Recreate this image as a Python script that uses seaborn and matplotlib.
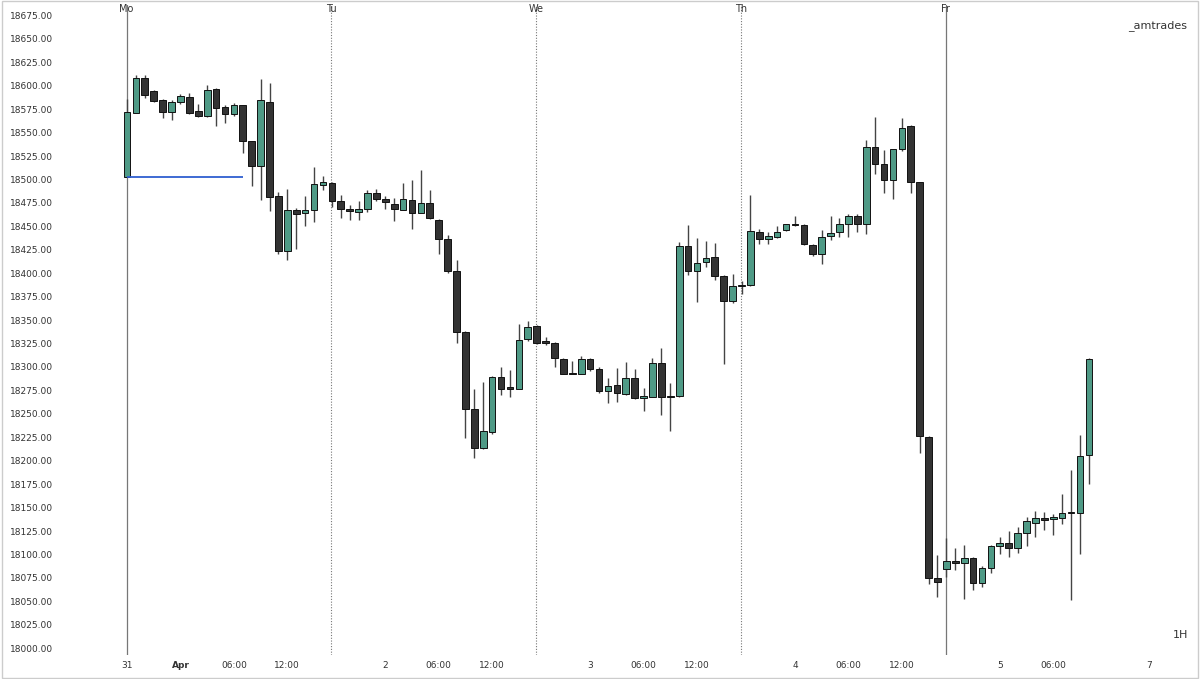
import matplotlib
matplotlib.use("Agg")
import matplotlib.pyplot as plt
import seaborn as sns
import numpy as np

opens = [18503,18571,18608,18594,18585,18572,18583,18588,18573,18568,18597,18577,18570,18579,18541,18514,18583,18482,18424,18468,18464,18468,18494,18496,
         18477,18469,18465,18469,18486,18479,18474,18468,18478,18464,18475,18457,18437,18402,18337,18255,18214,18231,18289,18278,18277,18330,18344,18327,
         18326,18309,18294,18293,18308,18298,18274,18281,18271,18288,18267,18268,18304,18269,18269,18429,18402,18412,18417,18397,18370,18386,18387,
         18444,18436,18439,18446,18453,18452,18430,18421,18440,18444,18453,18461,18453,18535,18517,18499,18533,18557,18497,18225,18075,18085,18093,
         18091,18096,18070,18086,18109,18112,18107,18123,18134,18139,18138,18139,18144,18144,18206]
highs = [18586,18611,18611,18596,18586,18585,18591,18592,18581,18601,18598,18580,18582,18580,18541,18607,18603,18487,18490,18470,18482,18513,18504,18497,
         18484,18473,18477,18489,18490,18482,18480,18496,18500,18510,18489,18458,18441,18414,18338,18276,18284,18290,18300,18297,18346,18349,18345,
         18332,18327,18310,18306,18312,18310,18300,18288,18299,18305,18298,18278,18310,18320,18283,18433,18451,18438,18434,18432,18398,18399,18392,
         18483,18447,18444,18450,18453,18461,18453,18431,18446,18461,18459,18463,18463,18542,18567,18531,18533,18566,18558,18497,18226,18099,18118,
         18107,18110,18097,18088,18110,18119,18125,18129,18140,18146,18145,18143,18165,18190,18227,18310]
lows = [18503,18571,18587,18583,18566,18563,18581,18570,18567,18567,18557,18560,18568,18528,18493,18478,18466,18421,18414,18426,18450,18455,18489,18471,
        18459,18457,18457,18465,18477,18469,18456,18467,18447,18464,18458,18420,18400,18326,18224,18203,18212,18229,18270,18268,18276,18328,18324,
        18323,18300,18292,18292,18292,18296,18272,18262,18263,18270,18266,18253,18268,18249,18232,18268,18398,18369,18407,18393,18303,18368,18378,
        18386,18431,18431,18438,18445,18450,18430,18418,18410,18435,18439,18439,18444,18442,18506,18486,18479,18530,18486,18208,18069,18055,18076,
        18083,18053,18062,18065,18080,18100,18097,18102,18109,18119,18126,18121,18133,18051,18101,18175]
closes = [18572,18608,18590,18584,18572,18583,18589,18571,18568,18596,18576,18570,18579,18541,18514,18585,18481,18424,18468,18463,18468,18495,18497,18477,
          18469,18466,18469,18486,18479,18476,18469,18479,18464,18475,18459,18437,18402,18337,18255,18214,18232,18289,18276,18277,18329,18343,18326,
          18326,18310,18293,18292,18308,18298,18274,18280,18272,18288,18267,18269,18304,18268,18268,18429,18402,18411,18416,18397,18370,18386,18387,
          18445,18436,18440,18444,18453,18451,18431,18421,18439,18443,18453,18461,18453,18535,18517,18499,18533,18555,18497,18226,18075,18071,18093,
          18091,18096,18070,18086,18109,18112,18107,18123,18136,18139,18137,18140,18144,18144,18205,18309]

n = min(len(opens), len(highs), len(lows), len(closes))
opens, highs, lows, closes = [np.array(a[:n], float) for a in (opens, highs, lows, closes)]

day_labels = ["Mo", "Tu", "We", "Th", "Fr"]
tick_pos = [0, 6, 12, 18, 29, 35, 41, 52, 58, 64, 75, 81, 87, 98, 104, 114.8]
tick_labels = ["31", "Apr", "06:00", "12:00", "2", "06:00", "12:00", "3", "06:00", "12:00",
               "4", "06:00", "12:00", "5", "06:00", "7"]
level_price = 18503

sns.set_style("white")
fig = plt.figure(figsize=(12, 6.79), dpi=100)
ax = fig.add_axes([0.055, 0.035, 0.937, 0.957])

x = np.arange(n)
up = closes >= opens
green, dark = "#4f9a86", "#333333"
cols = np.where(up, green, dark)
ax.vlines(x, lows, highs, color="#444444", lw=1, zorder=2)
bottom = np.minimum(opens, closes)
height = np.maximum(np.abs(closes - opens), 1.2)
ax.bar(x, height, bottom=bottom, width=0.75, color=cols, edgecolor="#111111", lw=0.7, zorder=3)

for d, lab in enumerate(day_labels):
    xp = 23 * d - 0.05
    if d in (0, 4):
        ax.axvline(xp, color="#777777", lw=0.9, zorder=1)
    else:
        ax.axvline(xp, color="#777777", lw=0.8, ls=(0, (1, 1.5)), zorder=1)
    ax.text(xp, 18682, lab, ha="center", va="center", fontsize=7, color="#333333")

ax.hlines(level_price, 0, 13, color="#2f5fd0", lw=1.3, zorder=4)

ax.set_xlim(-6.85, 119.4)
ax.set_ylim(17992.5, 18685.7)
yt = np.arange(18000, 18676, 25)
ax.set_yticks(yt)
ax.set_yticklabels([f"{v:.2f}" for v in yt], fontsize=6.5, color="#333333")
ax.set_xticks(tick_pos)
ax.set_xticklabels(tick_labels, fontsize=6.5, color="#333333")
for t in ax.get_xticklabels():
    if t.get_text() == "Apr":
        t.set_fontweight("bold")
ax.tick_params(axis="x", length=0, pad=4)
for s in ax.spines.values():
    s.set_visible(False)
for lab in ax.get_yticklabels():
    lab.set_horizontalalignment("left")
ax.tick_params(axis="y", length=0, pad=40)

fig.text(0.989, 0.962, "_amtrades", fontsize=8, color="#333333", ha="right", va="center")
fig.text(0.977, 0.06, "1H", fontsize=8, color="#333333", ha="left")
fig.patches.append(plt.Rectangle((0.002, 0.002), 0.996, 0.996, transform=fig.transFigure,
                                 fill=False, edgecolor="#cccccc", lw=1))
fig.savefig("out.png", dpi=100)
